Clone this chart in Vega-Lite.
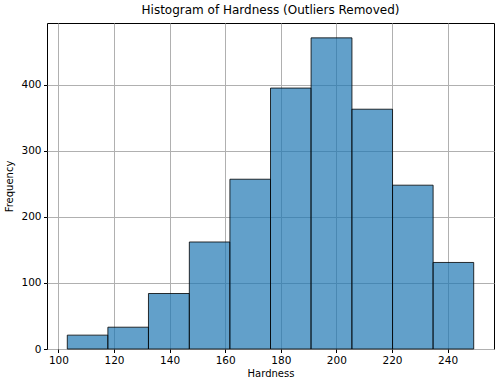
{
  "$schema": "https://vega.github.io/schema/vega-lite/v6.json",
  "autosize": "none",
  "width": 447,
  "height": 326,
  "padding": {"left": 47, "top": 23, "right": 6, "bottom": 38},
  "background": "white",
  "title": {"text": "Histogram of Hardness (Outliers Removed)", "font": "DejaVu Sans", "fontSize": 12, "fontWeight": "normal", "color": "black", "offset": 6},
  "config": {
    "view": {"stroke": "black", "strokeWidth": 1},
    "axis": {
      "labelFont": "DejaVu Sans", "labelFontSize": 10.5, "labelColor": "black",
      "titleFont": "DejaVu Sans", "titleFontSize": 10, "titleColor": "black", "titleFontWeight": "normal",
      "gridColor": "#b0b0b0", "gridWidth": 1, "gridOpacity": 1,
      "tickColor": "black", "tickSize": 3.5, "domain": false, "labelPadding": 2.5
    }
  },
  "data": {"values": [
    {"bin_start": 103.2, "bin_end": 117.8, "count": 21},
    {"bin_start": 117.8, "bin_end": 132.4, "count": 33},
    {"bin_start": 132.4, "bin_end": 147.1, "count": 84},
    {"bin_start": 147.1, "bin_end": 161.7, "count": 162},
    {"bin_start": 161.7, "bin_end": 176.3, "count": 257},
    {"bin_start": 176.3, "bin_end": 190.9, "count": 395},
    {"bin_start": 190.9, "bin_end": 205.6, "count": 471},
    {"bin_start": 205.6, "bin_end": 220.2, "count": 363},
    {"bin_start": 220.2, "bin_end": 234.8, "count": 248},
    {"bin_start": 234.8, "bin_end": 249.4, "count": 131}
  ]},
  "mark": {"type": "rect", "fill": "#1f77b4", "fillOpacity": 0.7, "stroke": "black", "strokeOpacity": 0.8, "strokeWidth": 1},
  "encoding": {
    "x": {"field": "bin_start", "type": "quantitative", "title": "Hardness",
          "scale": {"domain": [95.9, 256.7], "nice": false, "zero": false},
          "axis": {"values": [100, 120, 140, 160, 180, 200, 220, 240], "titlePadding": 3}},
    "x2": {"field": "bin_end"},
    "y": {"field": "count", "type": "quantitative", "title": "Frequency",
          "scale": {"domain": [0, 493.5], "nice": false},
          "axis": {"values": [0, 100, 200, 300, 400], "titlePadding": 6}}
  }
}
